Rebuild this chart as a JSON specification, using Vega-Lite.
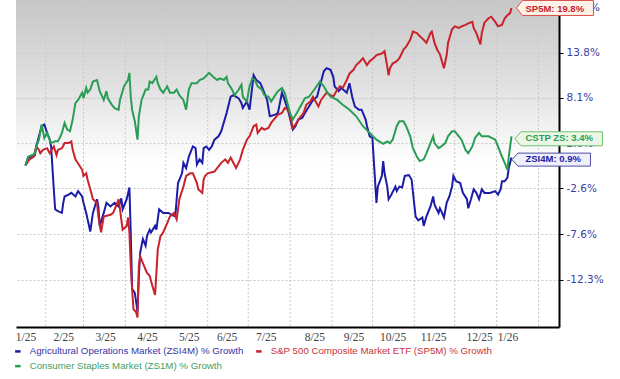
{
  "$schema": "https://vega.github.io/schema/vega-lite/v6.json",
  "width": 543,
  "height": 327,
  "autosize": "none",
  "padding": {"left": 16, "top": 0, "right": 61, "bottom": 52},
  "background": "white",
  "view": {
    "stroke": null,
    "fill": {"gradient": "linear", "x1": 0, "y1": 0, "x2": 0, "y2": 1,
      "stops": [{"offset": 0, "color": "#c6c6c6"}, {"offset": 0.28, "color": "#e3e3e3"}, {"offset": 0.5, "color": "#ffffff"}, {"offset": 1, "color": "#ffffff"}]}
  },
  "datasets": {
    "grid": [
      {"date": "2025-02-01"}, {"date": "2025-03-01"}, {"date": "2025-04-01"}, {"date": "2025-05-01"},
      {"date": "2025-06-01"}, {"date": "2025-07-01"}, {"date": "2025-08-01"}, {"date": "2025-09-01"},
      {"date": "2025-10-01"}, {"date": "2025-11-01"}, {"date": "2025-12-01"}, {"date": "2026-01-01"},
      {"date": "2026-02-01"}
    ],
    "ends": [
      {"series": "SP5M", "date": "2026-01-12", "value": 119.8, "label": "SP5M: 19.8%"},
      {"series": "ZS1M", "date": "2026-01-12", "value": 103.4, "label": "CSTP ZS: 3.4%"},
      {"series": "ZSI4M", "date": "2026-01-12", "value": 100.9, "label": "ZSI4M: 0.9%"}
    ],
    "series": [
      {"series":"ZSI4M","date":"2025-01-17","value":100},
      {"series":"ZSI4M","date":"2025-01-19","value":100.9},
      {"series":"ZSI4M","date":"2025-01-22","value":101.0},
      {"series":"ZSI4M","date":"2025-01-24","value":101.2},
      {"series":"ZSI4M","date":"2025-01-25","value":102.2},
      {"series":"ZSI4M","date":"2025-01-29","value":104.6},
      {"series":"ZSI4M","date":"2025-01-31","value":104.8},
      {"series":"ZSI4M","date":"2025-02-02","value":103.8},
      {"series":"ZSI4M","date":"2025-02-04","value":103.0},
      {"series":"ZSI4M","date":"2025-02-05","value":102.2},
      {"series":"ZSI4M","date":"2025-02-07","value":97.3},
      {"series":"ZSI4M","date":"2025-02-08","value":95.1},
      {"series":"ZSI4M","date":"2025-02-10","value":94.9},
      {"series":"ZSI4M","date":"2025-02-13","value":94.7},
      {"series":"ZSI4M","date":"2025-02-14","value":95.8},
      {"series":"ZSI4M","date":"2025-02-15","value":96.5},
      {"series":"ZSI4M","date":"2025-02-18","value":96.7},
      {"series":"ZSI4M","date":"2025-02-20","value":96.9},
      {"series":"ZSI4M","date":"2025-02-23","value":96.5},
      {"series":"ZSI4M","date":"2025-02-25","value":97.1},
      {"series":"ZSI4M","date":"2025-02-28","value":96.5},
      {"series":"ZSI4M","date":"2025-03-01","value":95.8},
      {"series":"ZSI4M","date":"2025-03-03","value":94.7},
      {"series":"ZSI4M","date":"2025-03-06","value":92.7},
      {"series":"ZSI4M","date":"2025-03-08","value":94.7},
      {"series":"ZSI4M","date":"2025-03-11","value":96.2},
      {"series":"ZSI4M","date":"2025-03-12","value":95.4},
      {"series":"ZSI4M","date":"2025-03-13","value":93.3},
      {"series":"ZSI4M","date":"2025-03-16","value":94.7},
      {"series":"ZSI4M","date":"2025-03-18","value":95.8},
      {"series":"ZSI4M","date":"2025-03-21","value":95.4},
      {"series":"ZSI4M","date":"2025-03-24","value":95.8},
      {"series":"ZSI4M","date":"2025-03-27","value":95.4},
      {"series":"ZSI4M","date":"2025-03-29","value":96.3},
      {"series":"ZSI4M","date":"2025-03-30","value":95.1},
      {"series":"ZSI4M","date":"2025-04-02","value":96.2},
      {"series":"ZSI4M","date":"2025-04-04","value":97.5},
      {"series":"ZSI4M","date":"2025-04-05","value":92.6},
      {"series":"ZSI4M","date":"2025-04-06","value":86.8},
      {"series":"ZSI4M","date":"2025-04-08","value":86.4},
      {"series":"ZSI4M","date":"2025-04-10","value":84.6},
      {"series":"ZSI4M","date":"2025-04-11","value":88.1},
      {"series":"ZSI4M","date":"2025-04-12","value":90.5},
      {"series":"ZSI4M","date":"2025-04-14","value":91.9},
      {"series":"ZSI4M","date":"2025-04-16","value":91.2},
      {"series":"ZSI4M","date":"2025-04-17","value":92.2},
      {"series":"ZSI4M","date":"2025-04-19","value":92.9},
      {"series":"ZSI4M","date":"2025-04-20","value":92.6},
      {"series":"ZSI4M","date":"2025-04-23","value":93.3},
      {"series":"ZSI4M","date":"2025-04-24","value":92.9},
      {"series":"ZSI4M","date":"2025-04-26","value":95.1},
      {"series":"ZSI4M","date":"2025-04-29","value":94.7},
      {"series":"ZSI4M","date":"2025-05-03","value":94.7},
      {"series":"ZSI4M","date":"2025-05-05","value":94.5},
      {"series":"ZSI4M","date":"2025-05-08","value":94.3},
      {"series":"ZSI4M","date":"2025-05-09","value":96.2},
      {"series":"ZSI4M","date":"2025-05-10","value":98.0},
      {"series":"ZSI4M","date":"2025-05-13","value":99.1},
      {"series":"ZSI4M","date":"2025-05-14","value":100.3},
      {"series":"ZSI4M","date":"2025-05-16","value":99.7},
      {"series":"ZSI4M","date":"2025-05-18","value":101.0},
      {"series":"ZSI4M","date":"2025-05-20","value":101.8},
      {"series":"ZSI4M","date":"2025-05-21","value":102.2},
      {"series":"ZSI4M","date":"2025-05-23","value":102.0},
      {"series":"ZSI4M","date":"2025-05-24","value":100.1},
      {"series":"ZSI4M","date":"2025-05-26","value":100.7},
      {"series":"ZSI4M","date":"2025-05-28","value":100.3},
      {"series":"ZSI4M","date":"2025-05-29","value":102.0},
      {"series":"ZSI4M","date":"2025-05-31","value":102.2},
      {"series":"ZSI4M","date":"2025-06-02","value":101.8},
      {"series":"ZSI4M","date":"2025-06-04","value":102.2},
      {"series":"ZSI4M","date":"2025-06-06","value":103.0},
      {"series":"ZSI4M","date":"2025-06-09","value":103.4},
      {"series":"ZSI4M","date":"2025-06-11","value":104.0},
      {"series":"ZSI4M","date":"2025-06-15","value":106.2},
      {"series":"ZSI4M","date":"2025-06-18","value":108.2},
      {"series":"ZSI4M","date":"2025-06-20","value":108.4},
      {"series":"ZSI4M","date":"2025-06-24","value":108.0},
      {"series":"ZSI4M","date":"2025-06-26","value":107.4},
      {"series":"ZSI4M","date":"2025-06-27","value":106.8},
      {"series":"ZSI4M","date":"2025-06-30","value":107.6},
      {"series":"ZSI4M","date":"2025-07-02","value":106.6},
      {"series":"ZSI4M","date":"2025-07-05","value":110.9},
      {"series":"ZSI4M","date":"2025-07-07","value":110.3},
      {"series":"ZSI4M","date":"2025-07-10","value":109.9},
      {"series":"ZSI4M","date":"2025-07-12","value":109.1},
      {"series":"ZSI4M","date":"2025-07-15","value":107.8},
      {"series":"ZSI4M","date":"2025-07-17","value":105.8},
      {"series":"ZSI4M","date":"2025-07-21","value":106.0},
      {"series":"ZSI4M","date":"2025-07-23","value":106.2},
      {"series":"ZSI4M","date":"2025-07-26","value":108.7},
      {"series":"ZSI4M","date":"2025-07-28","value":107.8},
      {"series":"ZSI4M","date":"2025-07-31","value":106.2},
      {"series":"ZSI4M","date":"2025-08-03","value":104.2},
      {"series":"ZSI4M","date":"2025-08-05","value":104.6},
      {"series":"ZSI4M","date":"2025-08-07","value":105.4},
      {"series":"ZSI4M","date":"2025-08-10","value":105.6},
      {"series":"ZSI4M","date":"2025-08-12","value":106.2},
      {"series":"ZSI4M","date":"2025-08-15","value":107.0},
      {"series":"ZSI4M","date":"2025-08-18","value":107.8},
      {"series":"ZSI4M","date":"2025-08-21","value":108.2},
      {"series":"ZSI4M","date":"2025-08-23","value":109.5},
      {"series":"ZSI4M","date":"2025-08-26","value":111.4},
      {"series":"ZSI4M","date":"2025-08-28","value":111.8},
      {"series":"ZSI4M","date":"2025-08-31","value":111.6},
      {"series":"ZSI4M","date":"2025-09-02","value":110.7},
      {"series":"ZSI4M","date":"2025-09-03","value":109.5},
      {"series":"ZSI4M","date":"2025-09-06","value":108.9},
      {"series":"ZSI4M","date":"2025-09-08","value":109.3},
      {"series":"ZSI4M","date":"2025-09-12","value":108.7},
      {"series":"ZSI4M","date":"2025-09-14","value":109.9},
      {"series":"ZSI4M","date":"2025-09-16","value":108.2},
      {"series":"ZSI4M","date":"2025-09-18","value":107.0},
      {"series":"ZSI4M","date":"2025-09-21","value":106.6},
      {"series":"ZSI4M","date":"2025-09-23","value":106.6},
      {"series":"ZSI4M","date":"2025-09-26","value":105.4},
      {"series":"ZSI4M","date":"2025-09-27","value":104.6},
      {"series":"ZSI4M","date":"2025-09-29","value":103.4},
      {"series":"ZSI4M","date":"2025-10-01","value":103.2},
      {"series":"ZSI4M","date":"2025-10-04","value":95.8},
      {"series":"ZSI4M","date":"2025-10-05","value":97.6},
      {"series":"ZSI4M","date":"2025-10-08","value":98.8},
      {"series":"ZSI4M","date":"2025-10-09","value":100.5},
      {"series":"ZSI4M","date":"2025-10-10","value":99.1},
      {"series":"ZSI4M","date":"2025-10-12","value":97.6},
      {"series":"ZSI4M","date":"2025-10-13","value":96.2},
      {"series":"ZSI4M","date":"2025-10-15","value":96.7},
      {"series":"ZSI4M","date":"2025-10-18","value":97.6},
      {"series":"ZSI4M","date":"2025-10-19","value":97.1},
      {"series":"ZSI4M","date":"2025-10-21","value":97.6},
      {"series":"ZSI4M","date":"2025-10-23","value":97.5},
      {"series":"ZSI4M","date":"2025-10-25","value":98.8},
      {"series":"ZSI4M","date":"2025-10-28","value":98.9},
      {"series":"ZSI4M","date":"2025-10-30","value":98.4},
      {"series":"ZSI4M","date":"2025-11-02","value":94.3},
      {"series":"ZSI4M","date":"2025-11-04","value":93.9},
      {"series":"ZSI4M","date":"2025-11-07","value":94.2},
      {"series":"ZSI4M","date":"2025-11-08","value":93.3},
      {"series":"ZSI4M","date":"2025-11-10","value":94.3},
      {"series":"ZSI4M","date":"2025-11-13","value":95.4},
      {"series":"ZSI4M","date":"2025-11-15","value":96.5},
      {"series":"ZSI4M","date":"2025-11-16","value":95.6},
      {"series":"ZSI4M","date":"2025-11-19","value":94.7},
      {"series":"ZSI4M","date":"2025-11-20","value":95.2},
      {"series":"ZSI4M","date":"2025-11-21","value":94.9},
      {"series":"ZSI4M","date":"2025-11-23","value":94.2},
      {"series":"ZSI4M","date":"2025-11-25","value":95.8},
      {"series":"ZSI4M","date":"2025-11-27","value":96.5},
      {"series":"ZSI4M","date":"2025-11-29","value":97.6},
      {"series":"ZSI4M","date":"2025-11-30","value":98.8},
      {"series":"ZSI4M","date":"2025-12-02","value":98.2},
      {"series":"ZSI4M","date":"2025-12-05","value":98.0},
      {"series":"ZSI4M","date":"2025-12-07","value":96.9},
      {"series":"ZSI4M","date":"2025-12-10","value":96.2},
      {"series":"ZSI4M","date":"2025-12-11","value":95.2},
      {"series":"ZSI4M","date":"2025-12-13","value":96.2},
      {"series":"ZSI4M","date":"2025-12-15","value":97.3},
      {"series":"ZSI4M","date":"2025-12-17","value":96.9},
      {"series":"ZSI4M","date":"2025-12-19","value":96.2},
      {"series":"ZSI4M","date":"2025-12-21","value":97.3},
      {"series":"ZSI4M","date":"2025-12-23","value":96.9},
      {"series":"ZSI4M","date":"2025-12-27","value":96.9},
      {"series":"ZSI4M","date":"2025-12-31","value":97.1},
      {"series":"ZSI4M","date":"2026-01-02","value":96.7},
      {"series":"ZSI4M","date":"2026-01-04","value":97.3},
      {"series":"ZSI4M","date":"2026-01-05","value":98.2},
      {"series":"ZSI4M","date":"2026-01-07","value":98.2},
      {"series":"ZSI4M","date":"2026-01-09","value":98.6},
      {"series":"ZSI4M","date":"2026-01-10","value":99.7},
      {"series":"ZSI4M","date":"2026-01-12","value":100.9},

      {"series":"SP5M","date":"2025-01-17","value":100},
      {"series":"SP5M","date":"2025-01-20","value":100.7},
      {"series":"SP5M","date":"2025-01-23","value":101.0},
      {"series":"SP5M","date":"2025-01-25","value":102.2},
      {"series":"SP5M","date":"2025-01-27","value":101.8},
      {"series":"SP5M","date":"2025-01-28","value":101.4},
      {"series":"SP5M","date":"2025-01-30","value":101.8},
      {"series":"SP5M","date":"2025-02-02","value":102.0},
      {"series":"SP5M","date":"2025-02-04","value":101.4},
      {"series":"SP5M","date":"2025-02-07","value":102.2},
      {"series":"SP5M","date":"2025-02-09","value":101.2},
      {"series":"SP5M","date":"2025-02-10","value":101.8},
      {"series":"SP5M","date":"2025-02-13","value":102.0},
      {"series":"SP5M","date":"2025-02-15","value":102.6},
      {"series":"SP5M","date":"2025-02-18","value":102.6},
      {"series":"SP5M","date":"2025-02-20","value":102.8},
      {"series":"SP5M","date":"2025-02-21","value":101.8},
      {"series":"SP5M","date":"2025-02-23","value":100.7},
      {"series":"SP5M","date":"2025-02-28","value":99.5},
      {"series":"SP5M","date":"2025-03-01","value":98.8},
      {"series":"SP5M","date":"2025-03-03","value":99.1},
      {"series":"SP5M","date":"2025-03-04","value":98.4},
      {"series":"SP5M","date":"2025-03-06","value":97.3},
      {"series":"SP5M","date":"2025-03-08","value":96.2},
      {"series":"SP5M","date":"2025-03-11","value":95.8},
      {"series":"SP5M","date":"2025-03-12","value":94.3},
      {"series":"SP5M","date":"2025-03-14","value":92.6},
      {"series":"SP5M","date":"2025-03-16","value":94.3},
      {"series":"SP5M","date":"2025-03-21","value":94.5},
      {"series":"SP5M","date":"2025-03-23","value":94.7},
      {"series":"SP5M","date":"2025-03-26","value":95.8},
      {"series":"SP5M","date":"2025-03-27","value":96.2},
      {"series":"SP5M","date":"2025-03-28","value":95.1},
      {"series":"SP5M","date":"2025-03-30","value":92.9},
      {"series":"SP5M","date":"2025-04-02","value":93.3},
      {"series":"SP5M","date":"2025-04-03","value":94.2},
      {"series":"SP5M","date":"2025-04-04","value":92.6},
      {"series":"SP5M","date":"2025-04-05","value":89.1},
      {"series":"SP5M","date":"2025-04-06","value":86.8},
      {"series":"SP5M","date":"2025-04-07","value":84.8},
      {"series":"SP5M","date":"2025-04-09","value":84.5},
      {"series":"SP5M","date":"2025-04-10","value":84.0},
      {"series":"SP5M","date":"2025-04-11","value":89.1},
      {"series":"SP5M","date":"2025-04-12","value":90.1},
      {"series":"SP5M","date":"2025-04-14","value":89.4},
      {"series":"SP5M","date":"2025-04-17","value":88.4},
      {"series":"SP5M","date":"2025-04-19","value":88.1},
      {"series":"SP5M","date":"2025-04-21","value":87.1},
      {"series":"SP5M","date":"2025-04-23","value":86.2},
      {"series":"SP5M","date":"2025-04-24","value":88.4},
      {"series":"SP5M","date":"2025-04-25","value":90.8},
      {"series":"SP5M","date":"2025-04-27","value":92.2},
      {"series":"SP5M","date":"2025-04-29","value":92.6},
      {"series":"SP5M","date":"2025-05-02","value":93.6},
      {"series":"SP5M","date":"2025-05-04","value":94.3},
      {"series":"SP5M","date":"2025-05-07","value":94.7},
      {"series":"SP5M","date":"2025-05-09","value":94.0},
      {"series":"SP5M","date":"2025-05-11","value":96.2},
      {"series":"SP5M","date":"2025-05-14","value":97.6},
      {"series":"SP5M","date":"2025-05-16","value":98.8},
      {"series":"SP5M","date":"2025-05-19","value":99.1},
      {"series":"SP5M","date":"2025-05-21","value":99.1},
      {"series":"SP5M","date":"2025-05-24","value":98.0},
      {"series":"SP5M","date":"2025-05-25","value":97.3},
      {"series":"SP5M","date":"2025-05-28","value":96.9},
      {"series":"SP5M","date":"2025-05-29","value":98.4},
      {"series":"SP5M","date":"2025-05-30","value":98.8},
      {"series":"SP5M","date":"2025-06-01","value":99.1},
      {"series":"SP5M","date":"2025-06-06","value":99.3},
      {"series":"SP5M","date":"2025-06-09","value":99.9},
      {"series":"SP5M","date":"2025-06-11","value":100.3},
      {"series":"SP5M","date":"2025-06-14","value":100.7},
      {"series":"SP5M","date":"2025-06-16","value":100.3},
      {"series":"SP5M","date":"2025-06-18","value":100.9},
      {"series":"SP5M","date":"2025-06-20","value":100.3},
      {"series":"SP5M","date":"2025-06-22","value":99.7},
      {"series":"SP5M","date":"2025-06-25","value":100.7},
      {"series":"SP5M","date":"2025-06-27","value":101.8},
      {"series":"SP5M","date":"2025-06-30","value":103.0},
      {"series":"SP5M","date":"2025-07-02","value":103.4},
      {"series":"SP5M","date":"2025-07-05","value":104.6},
      {"series":"SP5M","date":"2025-07-07","value":104.8},
      {"series":"SP5M","date":"2025-07-08","value":103.8},
      {"series":"SP5M","date":"2025-07-11","value":104.4},
      {"series":"SP5M","date":"2025-07-13","value":104.2},
      {"series":"SP5M","date":"2025-07-16","value":104.4},
      {"series":"SP5M","date":"2025-07-18","value":105.0},
      {"series":"SP5M","date":"2025-07-21","value":105.6},
      {"series":"SP5M","date":"2025-07-23","value":106.0},
      {"series":"SP5M","date":"2025-07-26","value":106.2},
      {"series":"SP5M","date":"2025-07-28","value":106.8},
      {"series":"SP5M","date":"2025-07-31","value":106.6},
      {"series":"SP5M","date":"2025-08-02","value":105.2},
      {"series":"SP5M","date":"2025-08-03","value":104.4},
      {"series":"SP5M","date":"2025-08-06","value":105.0},
      {"series":"SP5M","date":"2025-08-08","value":105.6},
      {"series":"SP5M","date":"2025-08-11","value":106.2},
      {"series":"SP5M","date":"2025-08-13","value":107.2},
      {"series":"SP5M","date":"2025-08-16","value":107.6},
      {"series":"SP5M","date":"2025-08-18","value":108.2},
      {"series":"SP5M","date":"2025-08-22","value":107.0},
      {"series":"SP5M","date":"2025-08-24","value":107.8},
      {"series":"SP5M","date":"2025-08-28","value":108.7},
      {"series":"SP5M","date":"2025-08-31","value":108.4},
      {"series":"SP5M","date":"2025-09-02","value":108.2},
      {"series":"SP5M","date":"2025-09-05","value":109.1},
      {"series":"SP5M","date":"2025-09-07","value":109.5},
      {"series":"SP5M","date":"2025-09-09","value":109.3},
      {"series":"SP5M","date":"2025-09-12","value":110.3},
      {"series":"SP5M","date":"2025-09-14","value":111.1},
      {"series":"SP5M","date":"2025-09-17","value":111.6},
      {"series":"SP5M","date":"2025-09-19","value":112.2},
      {"series":"SP5M","date":"2025-09-22","value":112.7},
      {"series":"SP5M","date":"2025-09-24","value":113.1},
      {"series":"SP5M","date":"2025-09-27","value":112.2},
      {"series":"SP5M","date":"2025-09-29","value":112.7},
      {"series":"SP5M","date":"2025-10-02","value":113.1},
      {"series":"SP5M","date":"2025-10-04","value":113.5},
      {"series":"SP5M","date":"2025-10-08","value":113.7},
      {"series":"SP5M","date":"2025-10-10","value":114.0},
      {"series":"SP5M","date":"2025-10-12","value":112.0},
      {"series":"SP5M","date":"2025-10-13","value":110.9},
      {"series":"SP5M","date":"2025-10-14","value":111.8},
      {"series":"SP5M","date":"2025-10-16","value":112.4},
      {"series":"SP5M","date":"2025-10-19","value":112.7},
      {"series":"SP5M","date":"2025-10-21","value":113.1},
      {"series":"SP5M","date":"2025-10-24","value":114.2},
      {"series":"SP5M","date":"2025-10-26","value":114.6},
      {"series":"SP5M","date":"2025-10-29","value":115.5},
      {"series":"SP5M","date":"2025-10-31","value":116.6},
      {"series":"SP5M","date":"2025-11-03","value":116.4},
      {"series":"SP5M","date":"2025-11-05","value":116.0},
      {"series":"SP5M","date":"2025-11-08","value":115.5},
      {"series":"SP5M","date":"2025-11-10","value":115.1},
      {"series":"SP5M","date":"2025-11-13","value":116.4},
      {"series":"SP5M","date":"2025-11-14","value":116.6},
      {"series":"SP5M","date":"2025-11-16","value":115.1},
      {"series":"SP5M","date":"2025-11-18","value":114.2},
      {"series":"SP5M","date":"2025-11-20","value":113.6},
      {"series":"SP5M","date":"2025-11-21","value":113.0},
      {"series":"SP5M","date":"2025-11-23","value":111.8},
      {"series":"SP5M","date":"2025-11-25","value":113.5},
      {"series":"SP5M","date":"2025-11-26","value":115.1},
      {"series":"SP5M","date":"2025-11-29","value":116.9},
      {"series":"SP5M","date":"2025-12-01","value":117.3},
      {"series":"SP5M","date":"2025-12-04","value":117.1},
      {"series":"SP5M","date":"2025-12-06","value":117.3},
      {"series":"SP5M","date":"2025-12-09","value":117.5},
      {"series":"SP5M","date":"2025-12-11","value":117.7},
      {"series":"SP5M","date":"2025-12-14","value":117.9},
      {"series":"SP5M","date":"2025-12-15","value":117.1},
      {"series":"SP5M","date":"2025-12-17","value":116.4},
      {"series":"SP5M","date":"2025-12-20","value":114.9},
      {"series":"SP5M","date":"2025-12-21","value":116.4},
      {"series":"SP5M","date":"2025-12-23","value":117.8},
      {"series":"SP5M","date":"2025-12-26","value":118.4},
      {"series":"SP5M","date":"2025-12-28","value":118.6},
      {"series":"SP5M","date":"2025-12-31","value":117.9},
      {"series":"SP5M","date":"2026-01-02","value":117.3},
      {"series":"SP5M","date":"2026-01-05","value":117.5},
      {"series":"SP5M","date":"2026-01-07","value":118.4},
      {"series":"SP5M","date":"2026-01-09","value":118.8},
      {"series":"SP5M","date":"2026-01-11","value":119.1},
      {"series":"SP5M","date":"2026-01-12","value":119.8},

      {"series":"ZS1M","date":"2025-01-17","value":100},
      {"series":"ZS1M","date":"2025-01-19","value":101.0},
      {"series":"ZS1M","date":"2025-01-22","value":101.2},
      {"series":"ZS1M","date":"2025-01-24","value":101.4},
      {"series":"ZS1M","date":"2025-01-25","value":102.2},
      {"series":"ZS1M","date":"2025-01-27","value":103.0},
      {"series":"ZS1M","date":"2025-01-29","value":104.8},
      {"series":"ZS1M","date":"2025-01-30","value":104.0},
      {"series":"ZS1M","date":"2025-01-31","value":103.2},
      {"series":"ZS1M","date":"2025-02-02","value":103.8},
      {"series":"ZS1M","date":"2025-02-04","value":103.0},
      {"series":"ZS1M","date":"2025-02-05","value":102.6},
      {"series":"ZS1M","date":"2025-02-08","value":102.8},
      {"series":"ZS1M","date":"2025-02-10","value":102.8},
      {"series":"ZS1M","date":"2025-02-12","value":103.4},
      {"series":"ZS1M","date":"2025-02-13","value":103.8},
      {"series":"ZS1M","date":"2025-02-15","value":105.0},
      {"series":"ZS1M","date":"2025-02-17","value":104.2},
      {"series":"ZS1M","date":"2025-02-19","value":104.0},
      {"series":"ZS1M","date":"2025-02-21","value":105.4},
      {"series":"ZS1M","date":"2025-02-23","value":107.4},
      {"series":"ZS1M","date":"2025-02-25","value":107.8},
      {"series":"ZS1M","date":"2025-02-28","value":108.7},
      {"series":"ZS1M","date":"2025-03-01","value":108.0},
      {"series":"ZS1M","date":"2025-03-03","value":109.3},
      {"series":"ZS1M","date":"2025-03-04","value":108.7},
      {"series":"ZS1M","date":"2025-03-06","value":109.1},
      {"series":"ZS1M","date":"2025-03-08","value":110.1},
      {"series":"ZS1M","date":"2025-03-11","value":110.3},
      {"series":"ZS1M","date":"2025-03-13","value":108.9},
      {"series":"ZS1M","date":"2025-03-16","value":107.8},
      {"series":"ZS1M","date":"2025-03-18","value":108.9},
      {"series":"ZS1M","date":"2025-03-19","value":108.0},
      {"series":"ZS1M","date":"2025-03-22","value":107.2},
      {"series":"ZS1M","date":"2025-03-24","value":106.8},
      {"series":"ZS1M","date":"2025-03-27","value":106.6},
      {"series":"ZS1M","date":"2025-03-28","value":107.8},
      {"series":"ZS1M","date":"2025-03-31","value":109.5},
      {"series":"ZS1M","date":"2025-04-03","value":110.3},
      {"series":"ZS1M","date":"2025-04-04","value":111.2},
      {"series":"ZS1M","date":"2025-04-05","value":108.2},
      {"series":"ZS1M","date":"2025-04-06","value":106.6},
      {"series":"ZS1M","date":"2025-04-08","value":105.2},
      {"series":"ZS1M","date":"2025-04-10","value":103.0},
      {"series":"ZS1M","date":"2025-04-11","value":105.8},
      {"series":"ZS1M","date":"2025-04-13","value":107.8},
      {"series":"ZS1M","date":"2025-04-16","value":109.1},
      {"series":"ZS1M","date":"2025-04-18","value":109.1},
      {"series":"ZS1M","date":"2025-04-19","value":110.1},
      {"series":"ZS1M","date":"2025-04-21","value":109.9},
      {"series":"ZS1M","date":"2025-04-24","value":110.7},
      {"series":"ZS1M","date":"2025-04-25","value":109.9},
      {"series":"ZS1M","date":"2025-04-27","value":109.1},
      {"series":"ZS1M","date":"2025-04-29","value":108.7},
      {"series":"ZS1M","date":"2025-05-02","value":109.5},
      {"series":"ZS1M","date":"2025-05-04","value":108.7},
      {"series":"ZS1M","date":"2025-05-07","value":108.7},
      {"series":"ZS1M","date":"2025-05-09","value":109.1},
      {"series":"ZS1M","date":"2025-05-11","value":108.4},
      {"series":"ZS1M","date":"2025-05-14","value":107.8},
      {"series":"ZS1M","date":"2025-05-16","value":106.6},
      {"series":"ZS1M","date":"2025-05-18","value":109.1},
      {"series":"ZS1M","date":"2025-05-20","value":109.9},
      {"series":"ZS1M","date":"2025-05-24","value":109.9},
      {"series":"ZS1M","date":"2025-05-26","value":110.3},
      {"series":"ZS1M","date":"2025-05-29","value":110.5},
      {"series":"ZS1M","date":"2025-06-02","value":111.2},
      {"series":"ZS1M","date":"2025-06-05","value":110.7},
      {"series":"ZS1M","date":"2025-06-08","value":110.3},
      {"series":"ZS1M","date":"2025-06-10","value":110.5},
      {"series":"ZS1M","date":"2025-06-13","value":110.3},
      {"series":"ZS1M","date":"2025-06-15","value":110.7},
      {"series":"ZS1M","date":"2025-06-16","value":109.9},
      {"series":"ZS1M","date":"2025-06-19","value":109.1},
      {"series":"ZS1M","date":"2025-06-21","value":108.4},
      {"series":"ZS1M","date":"2025-06-24","value":109.1},
      {"series":"ZS1M","date":"2025-06-26","value":109.7},
      {"series":"ZS1M","date":"2025-06-27","value":108.2},
      {"series":"ZS1M","date":"2025-06-30","value":107.6},
      {"series":"ZS1M","date":"2025-07-02","value":109.5},
      {"series":"ZS1M","date":"2025-07-04","value":110.5},
      {"series":"ZS1M","date":"2025-07-06","value":110.3},
      {"series":"ZS1M","date":"2025-07-08","value":109.5},
      {"series":"ZS1M","date":"2025-07-11","value":109.1},
      {"series":"ZS1M","date":"2025-07-13","value":108.4},
      {"series":"ZS1M","date":"2025-07-16","value":108.2},
      {"series":"ZS1M","date":"2025-07-18","value":107.6},
      {"series":"ZS1M","date":"2025-07-21","value":108.4},
      {"series":"ZS1M","date":"2025-07-23","value":108.9},
      {"series":"ZS1M","date":"2025-07-26","value":109.3},
      {"series":"ZS1M","date":"2025-07-28","value":108.7},
      {"series":"ZS1M","date":"2025-08-01","value":106.2},
      {"series":"ZS1M","date":"2025-08-03","value":105.4},
      {"series":"ZS1M","date":"2025-08-06","value":106.2},
      {"series":"ZS1M","date":"2025-08-10","value":107.4},
      {"series":"ZS1M","date":"2025-08-12","value":108.0},
      {"series":"ZS1M","date":"2025-08-15","value":108.2},
      {"series":"ZS1M","date":"2025-08-19","value":109.1},
      {"series":"ZS1M","date":"2025-08-23","value":110.1},
      {"series":"ZS1M","date":"2025-08-26","value":109.5},
      {"series":"ZS1M","date":"2025-08-28","value":108.9},
      {"series":"ZS1M","date":"2025-08-31","value":108.2},
      {"series":"ZS1M","date":"2025-09-05","value":107.8},
      {"series":"ZS1M","date":"2025-09-09","value":107.2},
      {"series":"ZS1M","date":"2025-09-14","value":106.6},
      {"series":"ZS1M","date":"2025-09-19","value":105.8},
      {"series":"ZS1M","date":"2025-09-24","value":104.6},
      {"series":"ZS1M","date":"2025-09-29","value":103.8},
      {"series":"ZS1M","date":"2025-10-04","value":103.0},
      {"series":"ZS1M","date":"2025-10-09","value":102.5},
      {"series":"ZS1M","date":"2025-10-12","value":102.8},
      {"series":"ZS1M","date":"2025-10-14","value":102.6},
      {"series":"ZS1M","date":"2025-10-16","value":103.0},
      {"series":"ZS1M","date":"2025-10-19","value":104.6},
      {"series":"ZS1M","date":"2025-10-21","value":105.2},
      {"series":"ZS1M","date":"2025-10-24","value":105.2},
      {"series":"ZS1M","date":"2025-10-26","value":104.6},
      {"series":"ZS1M","date":"2025-10-29","value":103.4},
      {"series":"ZS1M","date":"2025-10-31","value":102.0},
      {"series":"ZS1M","date":"2025-11-03","value":101.0},
      {"series":"ZS1M","date":"2025-11-05","value":100.5},
      {"series":"ZS1M","date":"2025-11-08","value":100.7},
      {"series":"ZS1M","date":"2025-11-10","value":101.4},
      {"series":"ZS1M","date":"2025-11-13","value":102.6},
      {"series":"ZS1M","date":"2025-11-15","value":103.4},
      {"series":"ZS1M","date":"2025-11-16","value":102.6},
      {"series":"ZS1M","date":"2025-11-19","value":102.0},
      {"series":"ZS1M","date":"2025-11-21","value":102.2},
      {"series":"ZS1M","date":"2025-11-24","value":102.6},
      {"series":"ZS1M","date":"2025-11-26","value":103.4},
      {"series":"ZS1M","date":"2025-11-29","value":104.0},
      {"series":"ZS1M","date":"2025-12-01","value":104.0},
      {"series":"ZS1M","date":"2025-12-04","value":103.4},
      {"series":"ZS1M","date":"2025-12-06","value":103.0},
      {"series":"ZS1M","date":"2025-12-09","value":101.8},
      {"series":"ZS1M","date":"2025-12-11","value":101.4},
      {"series":"ZS1M","date":"2025-12-14","value":102.2},
      {"series":"ZS1M","date":"2025-12-16","value":103.2},
      {"series":"ZS1M","date":"2025-12-19","value":103.8},
      {"series":"ZS1M","date":"2025-12-21","value":103.4},
      {"series":"ZS1M","date":"2025-12-26","value":103.4},
      {"series":"ZS1M","date":"2025-12-31","value":103.0},
      {"series":"ZS1M","date":"2026-01-02","value":102.2},
      {"series":"ZS1M","date":"2026-01-05","value":101.0},
      {"series":"ZS1M","date":"2026-01-07","value":100.3},
      {"series":"ZS1M","date":"2026-01-09","value":99.5},
      {"series":"ZS1M","date":"2026-01-10","value":101.0},
      {"series":"ZS1M","date":"2026-01-12","value":103.4}
    ]
  },
  "layer": [
    {
      "data": {"name": "grid"},
      "mark": {"type": "rule", "color": "#c9c9c9", "strokeDash": [2, 2], "strokeWidth": 1},
      "encoding": {
        "x": {"field": "date", "type": "temporal", "title": null}
      }
    },
    {
      "data": {"name": "series"},
      "mark": {"type": "line", "strokeWidth": 2, "interpolate": "linear"},
      "encoding": {
        "x": {
          "field": "date", "type": "temporal", "title": null,
          "scale": {"type": "utc", "domain": [{"year": 2025, "month": 1, "date": 10, "utc": true}, {"year": 2026, "month": 2, "date": 16, "hours": 5, "utc": true}]},
          "axis": {
            "values": [
              {"year": 2025, "month": 1, "date": 17, "utc": true},
              {"year": 2025, "month": 2, "date": 14, "utc": true},
              {"year": 2025, "month": 3, "date": 17, "utc": true},
              {"year": 2025, "month": 4, "date": 17, "utc": true},
              {"year": 2025, "month": 5, "date": 18, "utc": true},
              {"year": 2025, "month": 6, "date": 15, "utc": true},
              {"year": 2025, "month": 7, "date": 14, "utc": true},
              {"year": 2025, "month": 8, "date": 19, "utc": true},
              {"year": 2025, "month": 9, "date": 17, "utc": true},
              {"year": 2025, "month": 10, "date": 16, "utc": true},
              {"year": 2025, "month": 11, "date": 15, "utc": true},
              {"year": 2025, "month": 12, "date": 19, "utc": true},
              {"year": 2026, "month": 1, "date": 9, "utc": true}
            ],
            "format": "%-m/%y",
            "grid": false, "ticks": false, "tickSize": 0,
            "domainColor": "#000000", "domainWidth": 2,
            "labelColor": "#444444", "labelFont": "Liberation Sans Narrow", "labelFontSize": 11.5,
            "labelPadding": 4, "labelFlush": false, "labelOverlap": false, "title": null
          }
        },
        "y": {
          "field": "value", "type": "quantitative", "title": null,
          "scale": {"type": "log", "domain": [83.08, 120.9], "nice": false, "zero": false},
          "axis": {
            "orient": "right",
            "values": [87.7, 92.4, 97.4, 102.6, 108.1, 113.8, 119.8],
            "labelExpr": "(datum.value < 100 ? '-' : '') + format(abs(datum.value - 100), '.1f') + '%'",
            "grid": true, "gridColor": "#c9c9c9", "gridDash": [2, 2], "gridWidth": 1,
            "domainColor": "#000000", "domainWidth": 2,
            "tickColor": "#000000", "tickSize": 4, "tickWidth": 1,
            "labelColor": "#3d3d9e", "labelFont": "DejaVu Sans", "labelFontSize": 10.5,
            "labelPadding": 3, "labelOverlap": false, "labelFlush": false, "title": null
          }
        },
        "color": {
          "field": "series", "type": "nominal",
          "scale": {"domain": ["ZSI4M", "SP5M", "ZS1M"], "range": ["#1c1ca8", "#c8232b", "#2a9d55"]},
          "legend": {
            "orient": "none", "legendX": -3, "legendY": 346.5,
            "direction": "horizontal", "columns": 2, "title": null,
            "symbolType": "stroke", "symbolSize": 30, "symbolStrokeWidth": 2.5,
            "labelFont": "Liberation Sans", "labelFontSize": 9.7, "labelOffset": 7, "labelLimit": 400,
            "columnPadding": 7, "rowPadding": 3.8, "padding": 0,
            "labelExpr": "datum.value == 'ZSI4M' ? 'Agricultural Operations Market (ZSI4M) % Growth' : datum.value == 'SP5M' ? 'S&P 500 Composite Market ETF (SP5M) % Growth' : 'Consumer Staples Market (ZS1M) % Growth'",
            "labelColor": {"expr": "datum.value == 'ZSI4M' ? '#3434a4' : datum.value == 'SP5M' ? '#c8323a' : '#3ea064'"}
          }
        }
      }
    },
    {
      "data": {"name": "ends"},
      "mark": {"type": "point", "filled": true, "opacity": 1, "size": 4, "strokeWidth": 1},
      "encoding": {
        "x": {"field": "date", "type": "temporal", "title": null},
        "y": {"field": "value", "type": "quantitative", "title": null},
        "shape": {"field": "series", "type": "nominal", "legend": null,
          "scale": {"domain": ["SP5M", "ZS1M", "ZSI4M"], "range": [
            "M5,0L11,-7.5L82,-7.5L82,7.5L11,7.5Z",
            "M3.5,2.5L9.5,-4.5L91,-4.5L91,9.5L9.5,9.5Z",
            "M0.5,2L6.5,-4.5L79,-4.5L79,8.5L6.5,8.5Z"]}},
        "fill": {"field": "series", "type": "nominal", "legend": null,
          "scale": {"domain": ["SP5M", "ZS1M", "ZSI4M"], "range": ["#fdf1e8", "#ebf7e4", "#efeff9"]}},
        "stroke": {"field": "series", "type": "nominal", "legend": null,
          "scale": {"domain": ["SP5M", "ZS1M", "ZSI4M"], "range": ["#d8504a", "#72c072", "#4d4da6"]}}
      }
    },
    {
      "data": {"name": "ends"},
      "mark": {"type": "text", "align": "left", "baseline": "middle", "dx": 14, "dy": 1.5, "font": "Liberation Sans", "fontSize": 9.5, "fontWeight": "bold"},
      "encoding": {
        "x": {"field": "date", "type": "temporal", "title": null},
        "y": {"field": "value", "type": "quantitative", "title": null},
        "text": {"field": "label"},
        "color": {"field": "series", "type": "nominal"}
      }
    }
  ]
}
